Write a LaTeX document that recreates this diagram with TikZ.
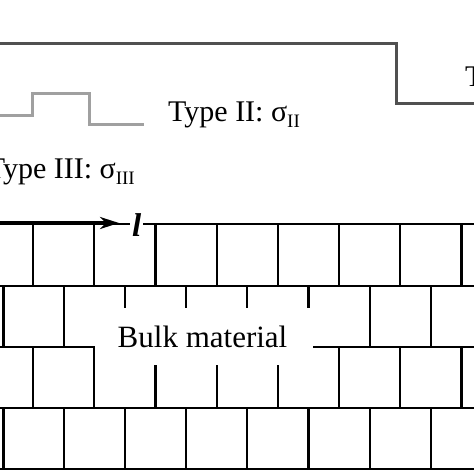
\documentclass[tikz,border=0pt]{standalone}
\usepackage{fontspec}
\setmainfont{Liberation Serif}
\usetikzlibrary{arrows.meta}
\definecolor{typeone}{HTML}{505050}
\definecolor{typetwo}{HTML}{A0A0A0}
\newcommand\mysub[1]{\raisebox{-0.22em}{\fontsize{19}{19}\selectfont #1}}
\tikzset{
  brick/.style={line width=2.2pt, black},
  edge/.style={line width=3pt, black},
  stepone/.style={line width=3pt, typeone},
  steptwo/.style={line width=3pt, typetwo},
  lab/.style={inner sep=0pt, font=\fontsize{30}{33}\selectfont},
  bulk/.style={inner sep=0pt, fill=white, font=\fontsize{31}{34}\selectfont},
}
\begin{document}
\begin{tikzpicture}[x=1pt,y=-1pt]
\useasboundingbox (0,0) rectangle (474,474);
\clip (0,0) rectangle (474,474);
\fill[white] (0,0) rectangle (474,474);
% Type I step line
\draw[stepone] (-5,43) -- (396,43) -- (396,103) -- (480,103);
\node[lab, anchor=base west] (t1) at (465,86) {Type I: σ\mysub{I}};
% Type II step line
\draw[steptwo] (-5,115) -- (32,115) -- (32,93) -- (89,93) -- (89,124) -- (144,124);
\node[lab, anchor=base west] (t2) at (168,121) {Type II: σ\mysub{II}};
% Type III label
\node[lab, anchor=base east] (t3) at (135,178) {Type III: σ\mysub{III}};
% bricks: horizontal lines
\foreach \yy in {224,286,408,469} \draw[brick] (-5,\yy) -- (480,\yy);
\draw[brick] (-5,347) -- (95,347);
\draw[brick] (313,347) -- (480,347);
% row 1
\foreach \xx in {33,94.2,155.4,216.6,277.8,339,400.2,461.4} \draw[brick] (\xx,224) -- (\xx,286);
% row 2
\draw[edge] (3,286) -- (3,347);
\foreach \xx in {63.6,369.6,430.8} \draw[brick] (\xx,286) -- (\xx,347);
\foreach \xx in {124.8,186,247.2,308.4} \draw[brick] (\xx,286) -- (\xx,308);
% row 3
\foreach \xx in {33,94.2,339,400.2,461.4} \draw[brick] (\xx,347) -- (\xx,408);
\foreach \xx in {155.4,216.6,277.8} \draw[brick] (\xx,365) -- (\xx,408);
% row 4
\draw[edge] (3,408) -- (3,469);
\foreach \xx in {63.6,124.8,186,247.2,308.4,369.6,430.8} \draw[brick] (\xx,408) -- (\xx,469);
% bulk label
\node[bulk, anchor=base] (bulk) at (202.5,347) {Bulk material};
% arrow l
\node[inner sep=2pt, fill=white, anchor=base west, font=\fontsize{33}{35}\selectfont\bfseries\itshape] (ell) at (130,236) {l};
\coordinate (astart) at (-5,223);
\coordinate (atip) at (119,223);
\draw[line width=4pt, -{Stealth[length=19pt,width=12pt,inset=6pt]}] (astart) -- (atip);
\end{tikzpicture}
\end{document}
